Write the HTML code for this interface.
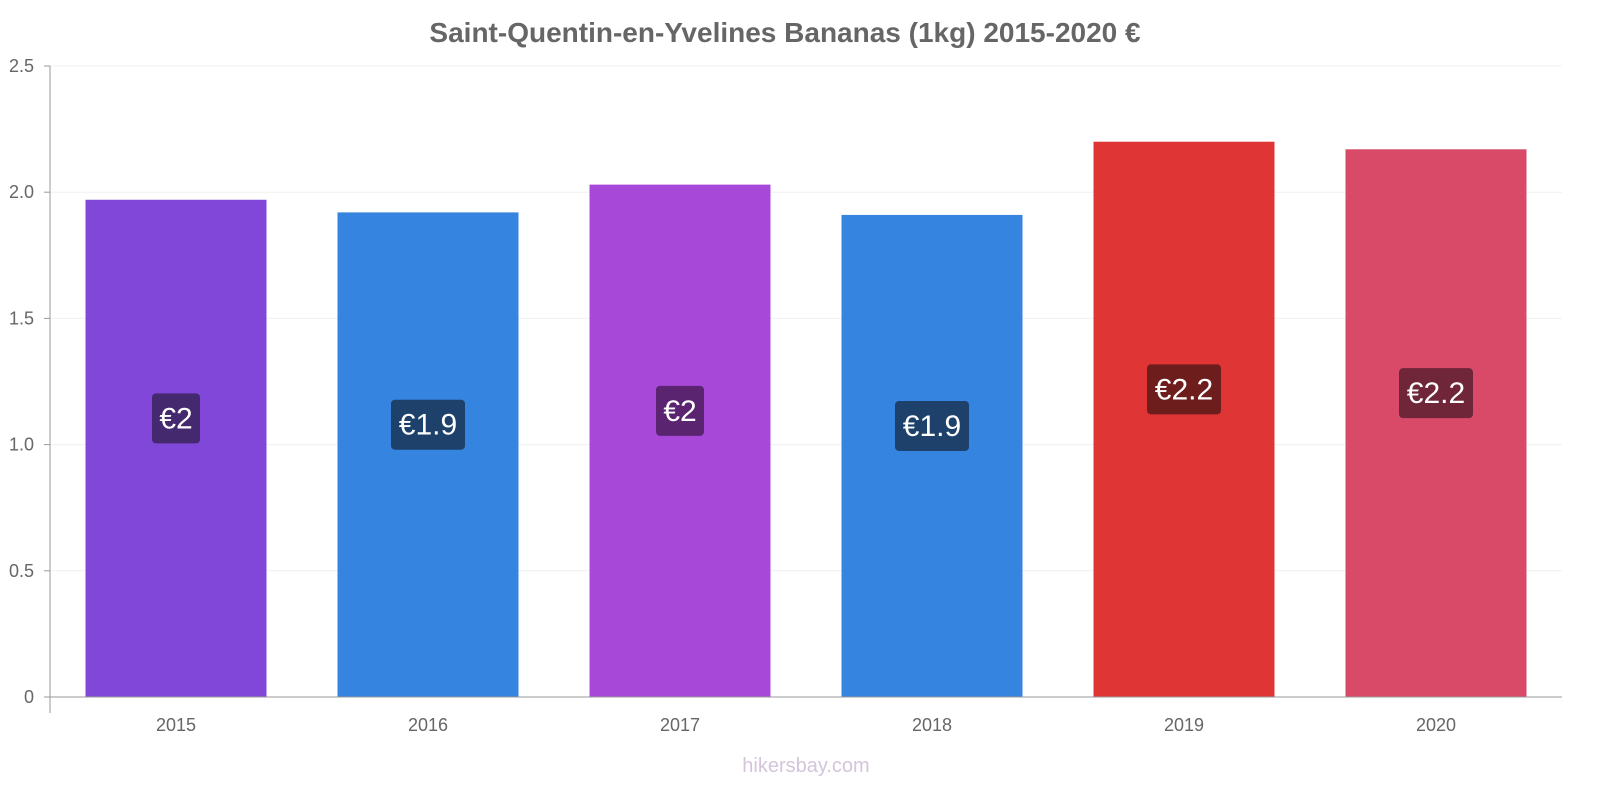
<!DOCTYPE html>
<html><head><meta charset="utf-8"><style>
html,body{margin:0;padding:0;background:#fff;font-family:"Liberation Sans",sans-serif;overflow:hidden;width:1600px;height:800px}
svg{display:block}
svg text{font-family:"Liberation Sans",sans-serif}
</style></head><body>
<svg width="1600" height="800">
<text x="785" y="42" text-anchor="middle" font-size="28" font-weight="bold" fill="#666">Saint-Quentin-en-Yvelines Bananas (1kg) 2015-2020 €</text>
<g id="grid"></g><g id="bars"></g><g id="axes"></g>
<text x="806" y="772" text-anchor="middle" font-size="20" fill="#d4c4dc">hikersbay.com</text>
</svg>
<script>
const categories=["2015","2016","2017","2018","2019","2020"];
const values=[1.97,1.92,2.03,1.91,2.20,2.17];
const labels=["€2","€1.9","€2","€1.9","€2.2","€2.2"];
const yTicks=[0,0.5,1.0,1.5,2.0,2.5];
const yTickLabels=["0","0.5","1.0","1.5","2.0","2.5"];
const colors=["#8047d8","#3584e0","#a848d8","#3584e0","#e03535","#d84a68"];
const labelBg=["#45296e","#1d416b","#5a2470","#1d416b","#6e1d1d","#6e2638"];
const NS="http://www.w3.org/2000/svg";
const x0=50,x1=1562,yBase=697,yTop=66,yMax=2.5;
const y=v=>yBase-(v/yMax)*(yBase-yTop);
const slot=(x1-x0)/categories.length;
const bw=181;
function mk(t,a,p){const e=document.createElementNS(NS,t);for(const k in a)e.setAttribute(k,a[k]);p.appendChild(e);return e;}
const grid=document.getElementById('grid'),bars=document.getElementById('bars'),axes=document.getElementById('axes');
yTicks.forEach((t,i)=>{
 const l=mk('line',{x1:x0,x2:x1,y1:y(t),y2:y(t),stroke:'#f0f0f0'},grid);
 
 
 const tx=mk('text',{x:34,y:y(t)+6,'text-anchor':'end','font-size':18,fill:'#666'},axes);
 tx.textContent=yTickLabels[i];
 
 
 const tk=mk('line',{x1:44,x2:50,y1:y(t),y2:y(t),stroke:'#999'},axes);
 
 
});
categories.forEach((c,i)=>{
 const cx=x0+slot*(i+0.5);
 const r=mk('rect',{x:cx-bw/2,y:y(values[i]),width:bw,height:yBase-y(values[i]),fill:colors[i]},bars);
 
 
 const ly=(yBase+y(values[i]))/2-30;
 const w=labels[i].length>2?74:48;
 const b=mk('rect',{x:cx-w/2,y:ly-25,width:w,height:50,rx:4,fill:labelBg[i]},bars);
 
 
 const t=mk('text',{x:cx,y:ly+10,'text-anchor':'middle','font-size':30,fill:'#fff'},bars);
 t.textContent=labels[i];
 
 
 const xt=mk('text',{x:cx,y:731,'text-anchor':'middle','font-size':18,fill:'#666'},axes);
 xt.textContent=c;
 
 
});
const ya=mk('line',{x1:50,x2:50,y1:66,y2:713,stroke:'#999'},axes);


const xa=mk('line',{x1:50,x2:1562,y1:697,y2:697,stroke:'#999'},axes);


</script>
</body></html>
